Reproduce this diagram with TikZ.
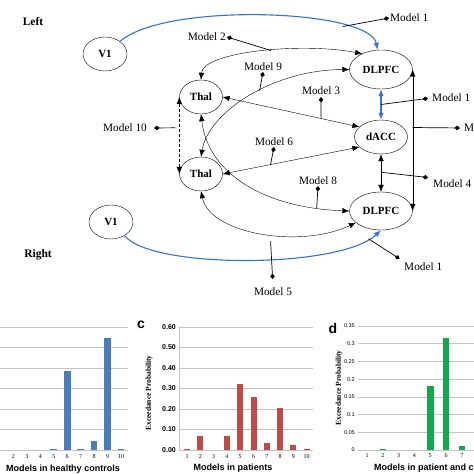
\documentclass[tikz,border=0pt]{standalone}
\usepackage{fontspec}
\setmainfont{Liberation Serif}
\newfontfamily\chartfont{Liberation Sans}
\usetikzlibrary{arrows.meta,shapes.geometric}
\definecolor{linkblue}{HTML}{3473D6}
\definecolor{barblue}{HTML}{4A7EBB}
\definecolor{barred}{HTML}{BE4B48}
\definecolor{bargreen}{HTML}{14A84A}
\definecolor{gridgray}{HTML}{C4C4C4}
\tikzset{>={Latex[length=7pt,width=5.5pt]},line width=.8pt,
  region/.style={ellipse,draw,inner sep=0pt,font=\bfseries\fontsize{11}{13}\selectfont},
  link/.style={<->},
  feed/.style={->,draw=linkblue,line width=1.1pt},
  pointer/.style={-{Diamond[length=5.5pt,width=4.5pt]},line width=.7pt},
  mlabel/.style={inner sep=1pt,font=\fontsize{11.3}{13}\selectfont},
  sidelab/.style={font=\bfseries\fontsize{11.5}{13}\selectfont},
  gridline/.style={draw=gridgray,line width=.6pt},
  ticklab/.style={inner sep=1pt,font=\fontsize{6}{7}\selectfont},
  ytickc/.style={anchor=east,inner sep=1pt,font=\chartfont\bfseries\fontsize{7}{8}\selectfont},
  ytickd/.style={anchor=east,inner sep=1pt,font=\chartfont\fontsize{5.5}{6}\selectfont},
  axtitle/.style={inner sep=1pt,font=\chartfont\bfseries\fontsize{9}{10}\selectfont},
  ylab/.style={rotate=90,inner sep=1pt,font=\bfseries\fontsize{7.5}{8}\selectfont},
  panellab/.style={inner sep=1pt,font=\chartfont\bfseries\fontsize{14}{15}\selectfont}}
\begin{document}
\begin{tikzpicture}[x=1pt,y=1pt]
\useasboundingbox (0,0) rectangle (474,474);
% regions
\node[sidelab] (left) at (33,452) {Left};
\node[sidelab] (right) at (38,219) {Right};
\node[region,minimum width=44pt,minimum height=34pt] (V1top) at (105,420) {V1};
\node[region,minimum width=44pt,minimum height=34pt] (V1bot) at (111,252) {V1};
\node[region,minimum width=43pt,minimum height=34pt] (ThalT) at (201,377) {Thal};
\node[region,minimum width=43pt,minimum height=34pt] (ThalB) at (201,300) {Thal};
\node[region,minimum width=63pt,minimum height=39pt] (DLT) at (381,404.5) {DLPFC};
\node[region,minimum width=53pt,minimum height=34pt] (dACC) at (381,337) {dACC};
\node[region,minimum width=63pt,minimum height=38pt] (DLB) at (381,263) {DLPFC};
% model labels
\node[mlabel,anchor=west] (lab1a) at (389,456) {Model 1};
\node[mlabel,anchor=west] (lab1b) at (431,376) {Model 1};
\node[mlabel,anchor=north west] (lab1c) at (403,213) {Model 1};
\node[mlabel,anchor=east] (lab2) at (227,437) {Model 2};
\node[mlabel,anchor=south] (lab3) at (321,378) {Model 3};
\node[mlabel,anchor=north west] (lab4) at (432,296) {Model 4};
\node[mlabel,anchor=north] (lab5) at (273,188) {Model 5};
\node[mlabel,anchor=south] (lab6) at (274,327) {Model 6};
\node[mlabel,anchor=west] (lab7) at (463,346) {Model 7};
\node[mlabel,anchor=south] (lab8) at (318,288) {Model 8};
\node[mlabel,anchor=south] (lab9) at (263,402) {Model 9};
\node[mlabel,anchor=east] (lab10) at (148,346) {Model 10};
% connections
\draw[feed] (V1top.40) .. controls (165,472) and (370,465) .. (DLT.100) coordinate[pos=.76] (m1a);
\draw[feed] (V1bot.-45) .. controls (150,205) and (340,205) .. (DLB.south) coordinate[pos=.92] (m1c);
\draw[feed,<->] (DLT.south) -- (dACC.north) coordinate[pos=.5] (m1b);
\draw[link] (dACC.south) -- (DLB.north) coordinate[pos=.48] (m4);
\draw[link] (DLT.east) -- (DLB.east) coordinate[pos=.41] (m7);
\draw[link] (ThalT.north) .. controls (203,422) and (300,432) .. (DLT.140) coordinate[pos=.56] (m2);
\draw[link] (ThalB.north) .. controls (208,360) and (270,404) .. (DLT.west) coordinate[pos=.57] (m9);
\draw[link] (ThalT.east) -- (dACC.155) coordinate[pos=.72] (m3);
\draw[link] (ThalB.east) -- (dACC.205) coordinate[pos=.35] (m6);
\draw[link] (ThalT.south) .. controls (208,300) and (265,266) .. (DLB.west) coordinate[pos=.865] (m8);
\draw[link] (ThalB.south) .. controls (210,240) and (300,225) .. (DLB.205) coordinate[pos=.55] (m5);
\draw[link,dash pattern=on 3pt off 2pt] (ThalT.west) -- (ThalB.west) coordinate[pos=.4] (m10);
% pointers
\draw[pointer] (m1a) -- (lab1a.west);
\draw[pointer,shorten >=3pt] (m1b) -- (lab1b.west);
\draw[pointer,shorten >=4pt] (m1c) -- (lab1c.north west);
\draw[pointer] (m2) -- (lab2.east);
\draw[pointer,shorten >=1pt] (m3) -- (lab3.south);
\draw[pointer,shorten >=4pt] (m4) -- (lab4.north west);
\draw[pointer,shorten <=7pt,shorten >=7pt] (m5) -- (lab5.north);
\draw[pointer] (m6) -- (lab6.south);
\draw[pointer,shorten >=3pt] (m7) -- (lab7.west);
\draw[pointer] (m8) -- (lab8.south);
\draw[pointer] (m9) -- (lab9.south);
\draw[pointer,shorten <=4pt,shorten >=6pt] (m10) -- (lab10.east);
% bar charts
\foreach \k in {0,...,6}{
  \draw[gridline] (0,{24+20.5*\k}) -- (128,{24+20.5*\k});
  \draw[gridline] (179,{24+20.5*\k}) -- (313,{24+20.5*\k});}
\foreach \k in {0,...,7} \draw[gridline] (358,{24+17.7*\k}) -- (474,{24+17.7*\k});
\draw[gridline] (179,24) -- (179,147);
\foreach \n/\v in {5/.003,6/.385,7/.005,8/.044,9/.546,10/.006}
  \fill[barblue] ({-16.8+13.45*\n},24) rectangle ++(6.6,{205*\v});
\foreach \n/\v in {1/.005,2/.068,4/.07,5/.322,6/.259,7/.034,8/.203,9/.024,10/.003}
  \fill[barred] ({170.7+13.3*\n},24) rectangle ++(6,{205*\v});
\foreach \n/\v in {2/.002,5/.181,6/.316,7/.010}
  \fill[bargreen] ({347.9+15.8*\n},24) rectangle ++(6.6,{354.3*\v});
\foreach \n in {2,...,10} \node[ticklab] (bx\n) at ({-13.5+13.45*\n},17) {\n};
\foreach \n in {1,...,10} \node[ticklab] (cx\n) at ({173.7+13.3*\n},17) {\n};
\foreach \n in {1,...,7} \node[ticklab] (dx\n) at ({351.2+15.8*\n},18) {\n};
\foreach \k/\t in {0/0.00,1/0.10,2/0.20,3/0.30,4/0.40,5/0.50,6/0.60}
  \node[ytickc] (cy\k) at (177,{24+20.5*\k}) {\t};
\foreach \k/\t in {0/0,1/0.05,2/0.1,3/0.15,4/0.2,5/0.25,6/0.3,7/0.35}
  \node[ytickd] (dy\k) at (356,{24+17.7*\k}) {\t};
\node[axtitle] (btitle) at (63,5) {Models in healthy controls};
\node[axtitle] (ctitle) at (233,6) {Models in patients};
\node[axtitle,anchor=west] (dtitle) at (373,6) {Models in patient and controls};
\node[ylab] (cylab) at (149,81) {Exceedance Probability};
\node[ylab] (dylab) at (339,86) {Exceedance Probability};
\node[panellab] (cpanel) at (141,149) {c};
\node[panellab] (dpanel) at (333,146) {d};
\end{tikzpicture}
\end{document}
